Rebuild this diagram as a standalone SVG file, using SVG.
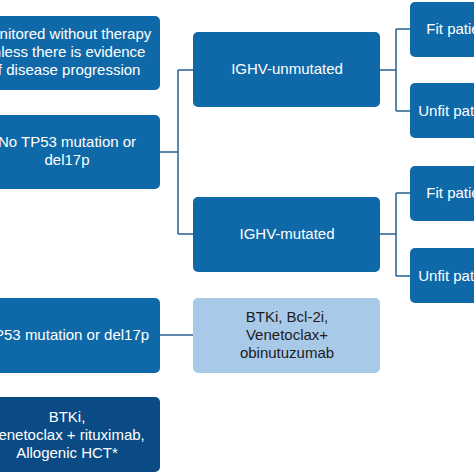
<svg xmlns="http://www.w3.org/2000/svg" width="474" height="474" viewBox="0 0 474 474">
<style>
.b{fill:#0f69a8}
.d{fill:#0b4b85}
.l{fill:#a9c9e9}
text{font-family:"Liberation Sans",Arial,sans-serif;font-size:15px;text-anchor:middle;fill:#fff}
.dk{fill:#1c1c1c}
.c{stroke:#2a5f90;stroke-width:1.5;fill:none}
</style>
<rect width="474" height="474" fill="#fff"/>
<g id="connectors">
<path class="c" d="M160 152H178M178 70V234M178 70H193M178 234H193"/>
<path class="c" d="M380 70H396M396 29V111M396 29H410M396 111H410"/>
<path class="c" d="M380 234H396M396 193V276M396 193H410M396 276H410"/>
<path class="c" d="M160 335H193"/>
</g>
<g id="monitored">
<rect class="b" x="-26" y="16" width="186" height="74" rx="5"/>
<text x="65" y="39">Monitored without therapy</text>
<text x="65" y="57">unless there is evidence</text>
<text x="65" y="75">of disease progression</text>
</g>
<g id="no-tp53">
<rect class="b" x="-26" y="115" width="186" height="74" rx="5"/>
<text x="67" y="147">No TP53 mutation or</text>
<text x="67" y="165">del17p</text>
</g>
<g id="tp53">
<rect class="b" x="-26" y="298" width="186" height="75" rx="5"/>
<text x="67" y="340">TP53 mutation or del17p</text>
</g>
<g id="btki-left">
<rect class="d" x="-26" y="397" width="186" height="75" rx="5"/>
<text x="67" y="422">BTKi,</text>
<text x="67" y="440">Venetoclax + rituximab,</text>
<text x="67" y="458">Allogenic HCT*</text>
</g>
<g id="ighv-unmutated">
<rect class="b" x="193" y="32" width="187" height="75" rx="5"/>
<text x="287" y="74">IGHV-unmutated</text>
</g>
<g id="ighv-mutated">
<rect class="b" x="193" y="197" width="187" height="75" rx="5"/>
<text x="287" y="239">IGHV-mutated</text>
</g>
<g id="btki-bcl2">
<rect class="l" x="193" y="298" width="187" height="75" rx="5"/>
<text class="dk" x="287" y="322">BTKi, Bcl-2i,</text>
<text class="dk" x="287" y="340">Venetoclax+</text>
<text class="dk" x="287" y="358">obinutuzumab</text>
</g>
<g id="fit1">
<rect class="b" x="410" y="2" width="100" height="55" rx="5"/>
<text x="463" y="34">Fit patients</text>
</g>
<g id="unfit1">
<rect class="b" x="410" y="83" width="100" height="55" rx="5"/>
<text x="462" y="116">Unfit patients</text>
</g>
<g id="fit2">
<rect class="b" x="410" y="166" width="100" height="55" rx="5"/>
<text x="463" y="198">Fit patients</text>
</g>
<g id="unfit2">
<rect class="b" x="410" y="248" width="100" height="55" rx="5"/>
<text x="462" y="281">Unfit patients</text>
</g>
</svg>
